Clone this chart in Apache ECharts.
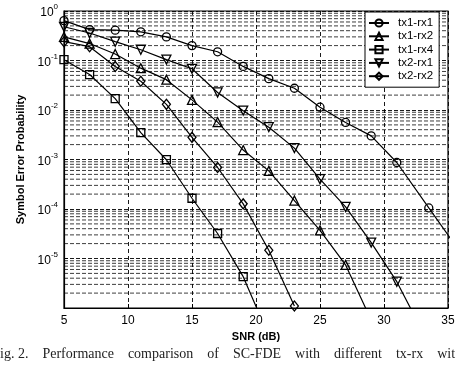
<!DOCTYPE html>
<html><head><meta charset="utf-8">
<script src="https://cdn.jsdelivr.net/npm/echarts@6/dist/echarts.min.js"></script>
<style>html,body{margin:0;padding:0;background:#fff}#c{width:474px;height:366px}</style>
</head><body><div id="c"></div><script>
// ---- data ----
const seriesNames = ['tx1-rx1', 'tx1-rx2', 'tx1-rx4', 'tx2-rx1', 'tx2-rx2'];
const snrTx1Rx1 = [5, 7, 9, 11, 13, 15, 17, 19, 21, 23, 25, 27, 29, 31, 33.5, 36];
const serTx1Rx1 = [0.64, 0.42, 0.41, 0.38, 0.30, 0.20, 0.15, 0.076, 0.043, 0.0275, 0.0114, 0.0056, 0.003, 8.7e-4, 1.05e-4, 1.3e-5];
const snrTx1Rx2 = [5, 7, 9, 11, 13, 15, 17, 19, 21, 23, 25, 27, 29];
const serTx1Rx2 = [0.30, 0.22, 0.135, 0.07, 0.041, 0.016, 0.0057, 0.00155, 5.9e-4, 1.48e-4, 3.7e-5, 7.4e-6, 5.7e-7];
const snrTx1Rx4 = [5, 7, 9, 11, 13, 15, 17, 19, 21];
const serTx1Rx4 = [0.104, 0.052, 0.017, 0.0035, 9.9e-4, 1.65e-4, 3.2e-5, 4.3e-6, 2.7e-7];
const snrTx2Rx1 = [5, 7, 9, 11, 13, 15, 17, 19, 21, 23, 25, 27, 29, 31, 33];
const serTx2Rx1 = [0.48, 0.36, 0.24, 0.165, 0.104, 0.068, 0.0226, 0.0097, 0.0045, 0.0017, 4.0e-4, 1.1e-4, 2.1e-5, 3.4e-6, 3.4e-7];
const snrTx2Rx2 = [5, 7, 9, 11, 13, 15, 17, 19, 21, 23];
const serTx2Rx2 = [0.24, 0.19, 0.076, 0.038, 0.013, 0.0028, 6.9e-4, 1.27e-4, 1.47e-5, 1.1e-6];
const xTicks = [5, 10, 15, 20, 25, 30, 35];
const yDecades = [-6, -5, -4, -3, -2, -1, 0];
const minorMult = [2, 3, 4, 5, 6, 7, 8, 9];
const xTitle = 'SNR (dB)';
const yTitle = 'Symbol Error Probability';
const caption = 'ig. 2.    Performance    comparison    of    SC-FDE    with    different    tx-rx    wit';

// ---- build ----
const pairs = (xs, ys) => xs.map((x, i) => [x, ys[i]]);
const downTri = 'path://M0,0 L10,0 L5,9 Z';
const diamond = 'path://M5,0 L10,6 L5,12 L0,6 Z';
const symbols = ['circle', 'triangle', 'rect', downTri, diamond];
const sizes = [8, 9, 8, 9, [8, 10]];
const datas = [pairs(snrTx1Rx1, serTx1Rx1), pairs(snrTx1Rx2, serTx1Rx2), pairs(snrTx1Rx4, serTx1Rx4), pairs(snrTx2Rx1, serTx2Rx1), pairs(snrTx2Rx2, serTx2Rx2)];

const FONT = '"Liberation Sans", Arial, sans-serif';
const xMin = xTicks[0], xMax = xTicks[xTicks.length - 1];

const series = [];
// minor horizontal grid lines (2..9 x 10^e), drawn through the axes
yDecades.slice(0, -1).forEach(e => minorMult.forEach(m => {
  const v = m * Math.pow(10, e);
  series.push({ type: 'line', data: [[xMin, v], [xMax, v]], symbol: 'none', silent: true, animation: false,
    lineStyle: { color: '#000', type: [4, 2], width: 0.9, opacity: 0.85 }, z: 1, legendHoverLink: false });
}));
seriesNames.forEach((n, i) => series.push({
  name: n, type: 'line', data: datas[i], clip: true,
  symbol: symbols[i], symbolSize: sizes[i], showSymbol: true,
  lineStyle: { color: '#000', width: 1.2 },
  itemStyle: { color: 'rgba(255,255,255,0)', borderColor: '#000', borderWidth: 1.3 },
  emphasis: { disabled: true }, animation: false, z: 3
}));

const chart = echarts.init(document.getElementById('c'), null, { renderer: 'canvas' });
chart.setOption({
  backgroundColor: '#fff',
  animation: false,
  grid: { left: 64, right: 26, top: 11, bottom: 58, show: true, borderColor: '#000', borderWidth: 1.2, backgroundColor: '#fff' },
  xAxis: {
    type: 'value', min: xMin, max: xMax, interval: 5,
    name: xTitle, nameLocation: 'middle', nameGap: 23,
    nameTextStyle: { fontFamily: FONT, fontSize: 11, fontWeight: 'bold', color: '#000' },
    axisLine: { show: true, lineStyle: { color: '#000', width: 1.2 } },
    axisTick: { show: true, inside: true, length: 4, lineStyle: { color: '#000' } },
    axisLabel: { fontFamily: FONT, fontSize: 12, color: '#000', margin: 7 },
    splitLine: { show: true, lineStyle: { color: '#000', type: [4, 3], width: 0.9 } }
  },
  yAxis: {
    type: 'log', logBase: 10, min: Math.pow(10, yDecades[0]), max: Math.pow(10, yDecades[yDecades.length - 1]),
    name: yTitle, nameLocation: 'middle', nameGap: 34,
    nameTextStyle: { fontFamily: FONT, fontSize: 11, fontWeight: 'bold', color: '#000' },
    axisLine: { show: true, lineStyle: { color: '#000', width: 1.2 } },
    axisTick: { show: true, inside: true, length: 4, lineStyle: { color: '#000' } },
    axisLabel: {
      margin: 6, color: '#000',
      formatter: v => { const e = Math.round(Math.log10(v)); return e === yDecades[0] ? '' : '{b|10}{s|' + e + '}'; },
      rich: {
        b: { fontFamily: FONT, fontSize: 12, lineHeight: 16, verticalAlign: 'bottom', color: '#000' },
        s: { fontFamily: FONT, fontSize: 8, lineHeight: 16, verticalAlign: 'top', color: '#000' }
      }
    },
    splitLine: { show: true, lineStyle: { color: '#000', type: [4, 2], width: 0.9 } }
  },
  legend: {
    data: seriesNames, orient: 'vertical', left: 365, top: 12,
    backgroundColor: '#fff', borderColor: '#000', borderWidth: 1, borderRadius: 0,
    padding: [5, 6, 5, 3], itemWidth: 20, itemHeight: 9, itemGap: 1.3,
    textStyle: { fontFamily: FONT, fontSize: 11.5, lineHeight: 12, color: '#000', padding: [0, 0, 0, 4] },
    selectedMode: false
  },
  graphic: [{ type: 'text', left: 0, top: 347, silent: true,
    style: { text: caption, font: '14px "Liberation Serif", serif', fill: '#222' } }],
  series: series
});
</script></body></html>
